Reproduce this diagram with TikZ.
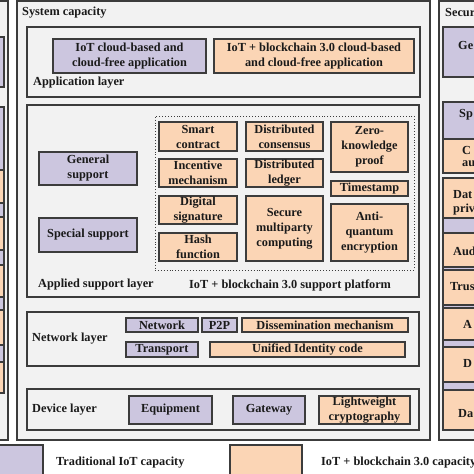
\documentclass[tikz,border=0pt]{standalone}
\usepackage{fontspec}
\setmainfont{Liberation Serif}
\definecolor{purp}{HTML}{CCC6DF}
\definecolor{oran}{HTML}{FBD5B5}
\definecolor{panelgray}{HTML}{F2F2F2}
\definecolor{bordercol}{HTML}{3C3C3C}
\definecolor{txtcol}{HTML}{1A1A1A}
\newcommand\fs{\fontsize{12.3}{15}\selectfont\bfseries}
\newcommand\mybox[7]{\node[#1, minimum width={(#5)-(#3)}, minimum height={(#6)-(#4)}] (#2) at ({((#3)+(#5))/2},{((#4)+(#6))/2}) {#7};}
\tikzset{
  boxbase/.style={draw=bordercol, line width=1.4pt, inner sep=0pt, align=center, font=\fs, text=txtcol},
  trad/.style={boxbase, fill=purp},
  bc/.style={boxbase, fill=oran},
  layerbox/.style={draw=bordercol, fill=panelgray, line width=1.4pt, inner sep=0pt},
  platbox/.style={draw=bordercol, dotted, line width=0.9pt, inner sep=0pt},
  lbl/.style={anchor=west, inner sep=0pt, font=\fs, text=txtcol},
  frag/.style={anchor=west, inner sep=0pt, font=\fs, text=txtcol, align=left},
}
\begin{document}
\begin{tikzpicture}[x=1pt,y=-1pt]
\useasboundingbox (0,0) rectangle (474,474);
\clip (0,0) rectangle (474,474);
\fill[white] (0,0) rectangle (474,474);
% panels
\mybox{layerbox}{leftpanel}{-10}{1}{8}{440}{}
\mybox{layerbox}{mainpanel}{17}{1}{430}{440}{}
\mybox{layerbox}{rightpanel}{439}{1}{490}{440}{}
\node[lbl] (syscap) at (22,13) {System capacity};
\node[lbl] (secur) at (445,13) {Secur};
% left panel boxes
\mybox{trad}{l1}{-10}{37}{4}{87}{}
\mybox{trad}{l2}{-10}{107}{4}{170}{}
\mybox{bc}{l3}{-10}{170}{4}{203}{}
\mybox{trad}{l4}{-10}{203}{4}{217}{}
\mybox{bc}{l5}{-10}{217}{4}{250}{}
\mybox{trad}{l6}{-10}{250}{4}{265}{}
\mybox{bc}{l7}{-10}{265}{4}{297}{}
\mybox{trad}{l8}{-10}{297}{4}{310}{}
\mybox{bc}{l9}{-10}{310}{4}{345}{}
\mybox{trad}{l10}{-10}{345}{4}{362}{}
\mybox{bc}{l11}{-10}{362}{4}{393}{}
% right panel boxes
\mybox{trad}{r1}{443}{27}{490}{77}{}
\mybox{trad}{r2}{443}{102}{490}{139}{}
\mybox{bc}{r3}{443}{139}{490}{173}{}
\mybox{bc}{r4}{443}{178}{490}{218}{}
\mybox{trad}{r5}{443}{218}{490}{233}{}
\mybox{bc}{r6}{443}{233}{490}{267}{}
\mybox{trad}{r7}{443}{267}{490}{270}{}
\mybox{bc}{r8}{443}{270}{490}{305}{}
\mybox{trad}{r9}{443}{305}{490}{308}{}
\mybox{bc}{r10}{443}{308}{490}{340}{}
\mybox{trad}{r11}{443}{340}{490}{347}{}
\mybox{bc}{r12}{443}{347}{490}{382}{}
\mybox{trad}{r13}{443}{382}{490}{390}{}
\mybox{bc}{r14}{443}{390}{490}{430}{}
\node[frag] (t1) at (458,45) {Ge};
\node[frag] (t2) at (459,115) {Sp};
\node[frag] (t3a) at (462,150) {C};
\node[frag] (t3b) at (462,164) {au};
\node[frag] (t4a) at (453,195) {Dat};
\node[frag] (t4b) at (453,210) {priv};
\node[frag] (t6) at (453,251) {Aud};
\node[frag] (t8) at (450,287) {Trus};
\node[frag] (t10) at (463,324) {A};
\node[frag] (t12) at (463,363) {D};
\node[frag] (t14) at (458,414) {Da};
% application layer
\mybox{layerbox}{applayer}{27}{27}{420}{97}{}
\mybox{trad}{iotapp}{53}{39}{206}{73}{IoT cloud-based and\\cloud-free application}
\mybox{bc}{bcapp}{214}{39}{414}{73}{IoT + blockchain 3.0 cloud-based\\and cloud-free application}
\node[lbl] (applbl) at (33,83) {Application layer};
% applied support layer
\mybox{layerbox}{suplayer}{27}{105}{419}{297}{}
\mybox{platbox}{platform}{155}{116}{414}{270}{}
\mybox{trad}{gensup}{39}{152}{137}{185}{General\\support}
\mybox{trad}{specsup}{39}{218}{137}{252}{Special support}
\mybox{bc}{smart}{159}{122}{237}{151}{Smart\\contract}
\mybox{bc}{incent}{159}{159}{237}{187}{Incentive\\mechanism}
\mybox{bc}{digsig}{159}{196}{237}{224}{Digital\\signature}
\mybox{bc}{hash}{159}{233}{237}{261}{Hash\\function}
\mybox{bc}{discons}{246}{122}{323}{151}{Distributed\\consensus}
\mybox{bc}{disled}{246}{159}{323}{187}{Distributed\\ledger}
\mybox{bc}{smpc}{246}{196}{323}{261}{Secure\\multiparty\\computing}
\mybox{bc}{zkp}{331}{122}{408}{172}{Zero-\\knowledge\\proof}
\mybox{bc}{tstamp}{331}{181}{408}{196}{Timestamp}
\mybox{bc}{aqe}{331}{204}{408}{261}{Anti-\\quantum\\encryption}
\node[lbl] (suplbl) at (38,285) {Applied support layer};
\node[lbl] (platlbl) at (189,285) {IoT + blockchain 3.0 support platform};
% network layer
\mybox{layerbox}{netlayer}{27}{312}{419}{366}{}
\node[lbl] (netlbl) at (32,339) {Network layer};
\mybox{trad}{network}{126}{318}{198}{332}{Network}
\mybox{trad}{ptop}{202}{318}{237}{332}{P2P}
\mybox{bc}{dissem}{242}{318}{408}{332}{Dissemination mechanism}
\mybox{trad}{transport}{126}{342}{198}{357}{Transport}
\mybox{bc}{uic}{210}{342}{405}{357}{Unified Identity code}
% device layer
\mybox{layerbox}{devlayer}{27}{389}{419}{430}{}
\node[lbl] (devlbl) at (32,410) {Device layer};
\mybox{trad}{equip}{129}{396}{212}{424}{Equipment}
\mybox{trad}{gateway}{233}{396}{305}{424}{Gateway}
\mybox{bc}{lwc}{319}{396}{410}{424}{Lightweight\\cryptography}
% legend
\mybox{trad}{legtrad}{-10}{445}{43}{490}{}
\node[lbl] (legtradlbl) at (56,463) {Traditional IoT capacity};
\mybox{bc}{legbc}{230}{445}{302}{490}{}
\node[lbl] (legbclbl) at (321,463) {IoT + blockchain 3.0 capacity};
\end{tikzpicture}
\end{document}
